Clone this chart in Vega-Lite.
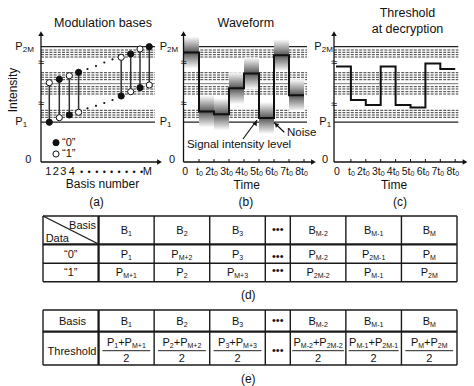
{
"$schema":"https://vega.github.io/schema/vega-lite/v6.json",
"padding":0,
"spacing":0,
"config":{"font":"Liberation Sans","view":{"stroke":null},"concat":{"spacing":0},"text":{"color":"#111"}},
"datasets":{
"gridA":[{"x":0.087,"x2":12.628,"y":11.53,"kind":"bold"},{"x":0.087,"x2":12.628,"y":3.98,"kind":"bold"},{"x":0.087,"x2":12.628,"y":7.83,"kind":"mid"},
{"x":0.087,"x2":12.628,"y":11.2,"kind":"dash"},{"x":0.087,"x2":12.628,"y":10.97,"kind":"dash"},{"x":0.087,"x2":12.628,"y":10.73,"kind":"dash"},{"x":0.087,"x2":12.628,"y":10.5,"kind":"dash"},
{"x":0.087,"x2":12.628,"y":8.93,"kind":"dash"},{"x":0.087,"x2":12.628,"y":8.7,"kind":"dash"},{"x":0.087,"x2":12.628,"y":8.47,"kind":"dash"},{"x":0.087,"x2":12.628,"y":8.23,"kind":"dash"},
{"x":0.087,"x2":12.628,"y":7.53,"kind":"dash"},{"x":0.087,"x2":12.628,"y":7.3,"kind":"dash"},{"x":0.087,"x2":12.628,"y":7.03,"kind":"dash"},{"x":0.087,"x2":12.628,"y":6.8,"kind":"dash"},
{"x":0.087,"x2":12.628,"y":5.17,"kind":"dash"},{"x":0.087,"x2":12.628,"y":4.93,"kind":"dash"},{"x":0.087,"x2":12.628,"y":4.7,"kind":"dash"},{"x":0.087,"x2":12.628,"y":4.47,"kind":"dash"}],
"gridB":[{"x":-0.033,"x2":8.2,"y":11.53,"kind":"bold"},{"x":-0.033,"x2":8.2,"y":3.98,"kind":"bold"},{"x":-0.033,"x2":8.2,"y":7.83,"kind":"mid"},
{"x":-0.033,"x2":8.2,"y":11.2,"kind":"dash"},{"x":-0.033,"x2":8.2,"y":10.97,"kind":"dash"},{"x":-0.033,"x2":8.2,"y":10.73,"kind":"dash"},{"x":-0.033,"x2":8.2,"y":10.5,"kind":"dash"},
{"x":-0.033,"x2":8.2,"y":8.93,"kind":"dash"},{"x":-0.033,"x2":8.2,"y":8.7,"kind":"dash"},{"x":-0.033,"x2":8.2,"y":8.47,"kind":"dash"},{"x":-0.033,"x2":8.2,"y":8.23,"kind":"dash"},
{"x":-0.033,"x2":8.2,"y":7.53,"kind":"dash"},{"x":-0.033,"x2":8.2,"y":7.3,"kind":"dash"},{"x":-0.033,"x2":8.2,"y":7.03,"kind":"dash"},{"x":-0.033,"x2":8.2,"y":6.8,"kind":"dash"},
{"x":-0.033,"x2":8.2,"y":5.17,"kind":"dash"},{"x":-0.033,"x2":8.2,"y":4.93,"kind":"dash"},{"x":-0.033,"x2":8.2,"y":4.7,"kind":"dash"},{"x":-0.033,"x2":8.2,"y":4.47,"kind":"dash"}],
"gridC":[{"x":-0.134,"x2":8.208,"y":11.53,"kind":"bold"},{"x":-0.134,"x2":8.208,"y":3.98,"kind":"bold"},{"x":-0.134,"x2":8.208,"y":7.83,"kind":"mid"},
{"x":-0.134,"x2":8.208,"y":11.2,"kind":"dash"},{"x":-0.134,"x2":8.208,"y":10.97,"kind":"dash"},{"x":-0.134,"x2":8.208,"y":10.73,"kind":"dash"},{"x":-0.134,"x2":8.208,"y":10.5,"kind":"dash"},
{"x":-0.134,"x2":8.208,"y":8.93,"kind":"dash"},{"x":-0.134,"x2":8.208,"y":8.7,"kind":"dash"},{"x":-0.134,"x2":8.208,"y":8.47,"kind":"dash"},{"x":-0.134,"x2":8.208,"y":8.23,"kind":"dash"},
{"x":-0.134,"x2":8.208,"y":7.53,"kind":"dash"},{"x":-0.134,"x2":8.208,"y":7.3,"kind":"dash"},{"x":-0.134,"x2":8.208,"y":7.03,"kind":"dash"},{"x":-0.134,"x2":8.208,"y":6.8,"kind":"dash"},
{"x":-0.134,"x2":8.208,"y":5.17,"kind":"dash"},{"x":-0.134,"x2":8.208,"y":4.93,"kind":"dash"},{"x":-0.134,"x2":8.208,"y":4.7,"kind":"dash"},{"x":-0.134,"x2":8.208,"y":4.47,"kind":"dash"}],
"anchor":[{"x":0.087,"x2":12.6,"y":-4.75}],
"aAxes":[{"x":0.087,"y":0,"x2":0.087,"y2":12.7},{"x":0.087,"y":0,"x2":12.96,"y2":0}],
"aArrow":[{"x":0.087,"y":12.83,"d":"up"},{"x":13.12,"y":0,"d":"right"}],
"aMarks":[{"x":1,"y":3.98,"bit":"0"},{"x":1,"y":7.93,"bit":"1"},
{"x":2.1,"y":8.27,"bit":"0"},{"x":2.1,"y":4.43,"bit":"1"},
{"x":3.2,"y":4.7,"bit":"0"},{"x":3.2,"y":8.63,"bit":"1"},
{"x":4.223,"y":8.97,"bit":"0"},{"x":4.223,"y":4.97,"bit":"1"},
{"x":8.91,"y":6.6,"bit":"0"},{"x":8.91,"y":10.47,"bit":"1"},
{"x":9.955,"y":10.8,"bit":"0"},{"x":9.955,"y":7.03,"bit":"1"},
{"x":10.978,"y":7.43,"bit":"0"},{"x":10.978,"y":11.3,"bit":"1"},
{"x":12,"y":11.53,"bit":"0"},{"x":12,"y":7.7,"bit":"1"}],
"aDots":[{"x":5.202,"y":9.3},{"x":6.137,"y":9.6},{"x":7.051,"y":9.95},{"x":7.953,"y":10.27},
{"x":5.202,"y":5.37},{"x":6.137,"y":5.62},{"x":7.051,"y":5.9},{"x":7.953,"y":6.2}],
"aLeg":[{"x":1.737,"y":1.93,"bit":"0"},{"x":1.737,"y":0.8,"bit":"1"}],
"aText":[
{"x":6.908,"y":13.9,"t":"Modulation bases","r":"title"},
{"x":-2.993,"y":7.2,"t":"Intensity","r":"rot"},
{"x":6.853,"y":-2.15,"t":"Basis number","r":"lab"},
{"x":6.193,"y":-3.95,"t":"(a)","r":"lab"},
{"x":-1.926,"y":11.53,"t":"P","r":"P"},{"x":-1.926,"y":11.53,"t":"2M","r":"sub"},
{"x":-1.926,"y":3.98,"t":"P","r":"P"},{"x":-1.926,"y":3.98,"t":"1","r":"sub"},
{"x":-1.31,"y":0.2,"t":"0","r":"tick"},
{"x":0.89,"y":-0.97,"t":"1","r":"tick"},{"x":1.704,"y":-0.97,"t":"2","r":"tick"},
{"x":2.54,"y":-0.97,"t":"3","r":"tick"},{"x":3.464,"y":-0.97,"t":"4","r":"tick"},
{"x":4.564,"y":-0.97,"t":"•","r":"bul"},{"x":5.389,"y":-0.97,"t":"•","r":"bul"},
{"x":6.215,"y":-0.97,"t":"•","r":"bul"},{"x":7.04,"y":-0.97,"t":"•","r":"bul"},
{"x":7.865,"y":-0.97,"t":"•","r":"bul"},{"x":8.69,"y":-0.97,"t":"•","r":"bul"},
{"x":9.515,"y":-0.97,"t":"•","r":"bul"},{"x":10.34,"y":-0.97,"t":"•","r":"bul"},
{"x":11.165,"y":-0.97,"t":"•","r":"bul"},
{"x":11.781,"y":-0.97,"t":"M","r":"tick"},
{"x":2.397,"y":1.93,"t":"“0”","r":"leg"},{"x":2.397,"y":0.8,"t":"“1”","r":"leg"},
{"x":0.087,"y":9.9,"t":"≈","r":"brk"},{"x":0.087,"y":5.8,"t":"≈","r":"brk"}],
"ticks":[{"x":1,"y":0,"y2":0.3},{"x":2,"y":0,"y2":0.3},{"x":3,"y":0,"y2":0.3},{"x":4,"y":0,"y2":0.3},{"x":5,"y":0,"y2":0.3},{"x":6,"y":0,"y2":0.3},{"x":7,"y":0,"y2":0.3},{"x":8,"y":0,"y2":0.3}],
"tickLab":[{"x":0.07,"y":-0.97,"t":"0","r":"tick"},
{"x":1,"y":-0.97,"t":"t","r":"tb"},{"x":1,"y":-0.97,"t":"0","r":"ts"},
{"x":2,"y":-0.97,"t":"2t","r":"tb"},{"x":2,"y":-0.97,"t":"0","r":"ts"},
{"x":3,"y":-0.97,"t":"3t","r":"tb"},{"x":3,"y":-0.97,"t":"0","r":"ts"},
{"x":4,"y":-0.97,"t":"4t","r":"tb"},{"x":4,"y":-0.97,"t":"0","r":"ts"},
{"x":5,"y":-0.97,"t":"5t","r":"tb"},{"x":5,"y":-0.97,"t":"0","r":"ts"},
{"x":6,"y":-0.97,"t":"6t","r":"tb"},{"x":6,"y":-0.97,"t":"0","r":"ts"},
{"x":7,"y":-0.97,"t":"7t","r":"tb"},{"x":7,"y":-0.97,"t":"0","r":"ts"},
{"x":8,"y":-0.97,"t":"8t","r":"tb"},{"x":8,"y":-0.97,"t":"0","r":"ts"}],
"bAxes":[{"x":-0.033,"y":0,"x2":-0.033,"y2":12.7},{"x":-0.033,"y":0,"x2":8.53,"y2":0}],
"bArrow":[{"x":-0.033,"y":12.83,"d":"up"},{"x":8.63,"y":0,"d":"right"}],
"wave":[{"x":0,"y":10.95},{"x":1,"y":5.05},{"x":2,"y":4.78},{"x":3,"y":7.38},{"x":4,"y":8.85},{"x":5,"y":4.4},{"x":6,"y":10.68},{"x":7,"y":6.68},{"x":8,"y":6.68}],
"noise":[{"x":0,"x2":1,"y":9.35,"y2":12.55},{"x":1,"x2":2,"y":3.45,"y2":6.65},{"x":2,"x2":3,"y":3.18,"y2":6.38},{"x":3,"x2":4,"y":5.78,"y2":8.98},{"x":4,"x2":5,"y":7.25,"y2":10.45},{"x":5,"x2":6,"y":2.8,"y2":6.0},{"x":6,"x2":7,"y":9.08,"y2":12.28},{"x":7,"x2":8,"y":5.08,"y2":8.28}],
"bAnnot":[{"x":3.933,"y":2.3,"x2":4.867,"y2":4.2,"id":"sig"},{"x":6.687,"y":2.97,"x2":6.0,"y2":3.95,"id":"noise"}],
"bHeads":[{"x":4.78,"y":3.89,"id":"sig"},{"x":6.14,"y":3.76,"id":"noise"}],
"bText":[
{"x":4.12,"y":13.9,"t":"Waveform","r":"title"},
{"x":4.18,"y":-2.3,"t":"Time","r":"lab"},
{"x":4.13,"y":-3.95,"t":"(b)","r":"lab"},
{"x":-1.133,"y":11.53,"t":"P","r":"P"},{"x":-1.133,"y":11.53,"t":"2M","r":"sub"},
{"x":-1.133,"y":3.98,"t":"P","r":"P"},{"x":-1.133,"y":3.98,"t":"1","r":"sub"},
{"x":-0.8,"y":0.2,"t":"0","r":"tick"},
{"x":3.667,"y":1.7,"t":"Signal intensity level","r":"ann"},
{"x":7.847,"y":2.87,"t":"Noise","r":"ann"},
{"x":-0.033,"y":9.9,"t":"≈","r":"brk"},{"x":-0.033,"y":5.8,"t":"≈","r":"brk"}],
"cAxes":[{"x":-0.134,"y":0,"x2":-0.134,"y2":12.7},{"x":-0.134,"y":0,"x2":8.56,"y2":0}],
"cArrow":[{"x":-0.134,"y":12.83,"d":"up"},{"x":8.66,"y":0,"d":"right"}],
"thr":[{"x":0,"y":9.55},{"x":1,"y":6.2},{"x":2,"y":5.7},{"x":3,"y":9.55},{"x":4,"y":5.7},{"x":5,"y":5.45},{"x":6,"y":9.85},{"x":7,"y":9.3},{"x":8,"y":9.3}],
"cText":[
{"x":4.799,"y":14.87,"t":"Threshold","r":"title"},
{"x":4.799,"y":13.27,"t":"at decryption","r":"title"},
{"x":3.893,"y":-2.3,"t":"Time","r":"lab"},
{"x":4.295,"y":-3.95,"t":"(c)","r":"lab"},
{"x":-0.96,"y":11.53,"t":"P","r":"P"},{"x":-0.96,"y":11.53,"t":"2M","r":"sub"},
{"x":-0.624,"y":3.98,"t":"P","r":"P"},{"x":-0.624,"y":3.98,"t":"1","r":"sub"},
{"x":-0.738,"y":0.2,"t":"0","r":"tick"},
{"x":-0.134,"y":9.87,"t":"≈","r":"brk"},{"x":-0.134,"y":5.7,"t":"≈","r":"brk"}],
"tLines":[
{"x":0,"y":1.1,"x2":7.45,"y2":1.1,"w":"thin"},
{"x":0,"y":3.93,"x2":7.45,"y2":3.93,"w":"thick"},
{"x":0,"y":5.83,"x2":7.45,"y2":5.83,"w":"thin"},
{"x":0,"y":7.67,"x2":7.45,"y2":7.67,"w":"thin"},
{"x":0,"y":1.1,"x2":0,"y2":7.67,"w":"thin"},
{"x":1,"y":1.1,"x2":1,"y2":7.67,"w":"thick"},
{"x":2,"y":1.1,"x2":2,"y2":7.67,"w":"thin"},
{"x":3,"y":1.1,"x2":3,"y2":7.67,"w":"thin"},
{"x":4,"y":1.1,"x2":4,"y2":7.67,"w":"thin"},
{"x":4.45,"y":1.1,"x2":4.45,"y2":7.67,"w":"thin"},
{"x":5.45,"y":1.1,"x2":5.45,"y2":7.67,"w":"thin"},
{"x":6.45,"y":1.1,"x2":6.45,"y2":7.67,"w":"thin"},
{"x":7.45,"y":1.1,"x2":7.45,"y2":7.67,"w":"thin"},
{"x":0,"y":1.1,"x2":0.98,"y2":3.85,"w":"thin"},
{"x":0,"y":10.5,"x2":7.45,"y2":10.5,"w":"thin"},
{"x":0,"y":12.67,"x2":7.45,"y2":12.67,"w":"thick"},
{"x":0,"y":16.0,"x2":7.45,"y2":16.0,"w":"thin"},
{"x":0,"y":10.5,"x2":0,"y2":16.0,"w":"thin"},
{"x":1,"y":10.5,"x2":1,"y2":16.0,"w":"thick"},
{"x":2,"y":10.5,"x2":2,"y2":16.0,"w":"thin"},
{"x":3,"y":10.5,"x2":3,"y2":16.0,"w":"thin"},
{"x":4,"y":10.5,"x2":4,"y2":16.0,"w":"thin"},
{"x":4.45,"y":10.5,"x2":4.45,"y2":16.0,"w":"thin"},
{"x":5.45,"y":10.5,"x2":5.45,"y2":16.0,"w":"thin"},
{"x":6.45,"y":10.5,"x2":6.45,"y2":16.0,"w":"thin"},
{"x":7.45,"y":10.5,"x2":7.45,"y2":16.0,"w":"thin"}],
"tBars":[{"x":1.07,"x2":1.93,"y":14.57},{"x":2.07,"x2":2.93,"y":14.57},{"x":3.07,"x2":3.93,"y":14.57},{"x":4.485,"x2":5.415,"y":14.57},{"x":5.5,"x2":6.4,"y":14.57},{"x":6.52,"x2":7.38,"y":14.57}],
"tText":[
{"x":1.399,"y":2.57,"t":"B","r":"b"},{"x":1.531,"y":2.57,"t":"1","r":"s"},
{"x":2.399,"y":2.57,"t":"B","r":"b"},{"x":2.531,"y":2.57,"t":"2","r":"s"},
{"x":3.399,"y":2.57,"t":"B","r":"b"},{"x":3.531,"y":2.57,"t":"3","r":"s"},
{"x":4.776,"y":2.57,"t":"B","r":"b"},{"x":4.908,"y":2.57,"t":"M-2","r":"s"},
{"x":5.776,"y":2.57,"t":"B","r":"b"},{"x":5.908,"y":2.57,"t":"M-1","r":"s"},
{"x":6.832,"y":2.57,"t":"B","r":"b"},{"x":6.964,"y":2.57,"t":"M","r":"s"},
{"x":0.711,"y":2.1,"t":"Basis","r":"c"},
{"x":0.257,"y":3.4,"t":"Data","r":"c"},
{"x":4.225,"y":2.45,"t":"•••","r":"c"},
{"x":0.5,"y":5.0,"t":"“0”","r":"c"},
{"x":1.399,"y":5.0,"t":"P","r":"b"},{"x":1.531,"y":5.0,"t":"1","r":"s"},
{"x":2.31,"y":5.0,"t":"P","r":"b"},{"x":2.442,"y":5.0,"t":"M+2","r":"s"},
{"x":3.399,"y":5.0,"t":"P","r":"b"},{"x":3.531,"y":5.0,"t":"3","r":"s"},
{"x":4.225,"y":5.2,"t":"•••","r":"c"},
{"x":4.776,"y":5.0,"t":"P","r":"b"},{"x":4.908,"y":5.0,"t":"M-2","r":"s"},
{"x":5.741,"y":5.0,"t":"P","r":"b"},{"x":5.873,"y":5.0,"t":"2M-1","r":"s"},
{"x":6.832,"y":5.0,"t":"P","r":"b"},{"x":6.964,"y":5.0,"t":"M","r":"s"},
{"x":0.5,"y":6.77,"t":"“1”","r":"c"},
{"x":1.31,"y":6.77,"t":"P","r":"b"},{"x":1.442,"y":6.77,"t":"M+1","r":"s"},
{"x":2.399,"y":6.77,"t":"P","r":"b"},{"x":2.531,"y":6.77,"t":"2","r":"s"},
{"x":3.31,"y":6.77,"t":"P","r":"b"},{"x":3.442,"y":6.77,"t":"M+3","r":"s"},
{"x":4.225,"y":6.55,"t":"•••","r":"c"},
{"x":4.741,"y":6.77,"t":"P","r":"b"},{"x":4.873,"y":6.77,"t":"2M-2","r":"s"},
{"x":5.776,"y":6.77,"t":"P","r":"b"},{"x":5.908,"y":6.77,"t":"M-1","r":"s"},
{"x":6.797,"y":6.77,"t":"P","r":"b"},{"x":6.929,"y":6.77,"t":"2M","r":"s"},
{"x":3.694,"y":9.0,"t":"(d)","r":"lab"},
{"x":0.53,"y":11.67,"t":"Basis","r":"c"},
{"x":1.399,"y":11.67,"t":"B","r":"b"},{"x":1.531,"y":11.67,"t":"1","r":"s"},
{"x":2.399,"y":11.67,"t":"B","r":"b"},{"x":2.531,"y":11.67,"t":"2","r":"s"},
{"x":3.399,"y":11.67,"t":"B","r":"b"},{"x":3.531,"y":11.67,"t":"3","r":"s"},
{"x":4.225,"y":11.55,"t":"•••","r":"c"},
{"x":4.776,"y":11.67,"t":"B","r":"b"},{"x":4.908,"y":11.67,"t":"M-2","r":"s"},
{"x":5.776,"y":11.67,"t":"B","r":"b"},{"x":5.908,"y":11.67,"t":"M-1","r":"s"},
{"x":6.832,"y":11.67,"t":"B","r":"b"},{"x":6.964,"y":11.67,"t":"M","r":"s"},
{"x":0.522,"y":14.67,"t":"Threshold","r":"c"},
{"x":1.151,"y":13.83,"t":"P","r":"b"},{"x":1.283,"y":13.83,"t":"1","r":"s"},{"x":1.353,"y":13.83,"t":"+P","r":"b"},{"x":1.601,"y":13.83,"t":"M+1","r":"s"},
{"x":2.151,"y":13.83,"t":"P","r":"b"},{"x":2.283,"y":13.83,"t":"2","r":"s"},{"x":2.353,"y":13.83,"t":"+P","r":"b"},{"x":2.601,"y":13.83,"t":"M+2","r":"s"},
{"x":3.151,"y":13.83,"t":"P","r":"b"},{"x":3.283,"y":13.83,"t":"3","r":"s"},{"x":3.353,"y":13.83,"t":"+P","r":"b"},{"x":3.601,"y":13.83,"t":"M+3","r":"s"},
{"x":4.508,"y":13.83,"t":"P","r":"b"},{"x":4.64,"y":13.83,"t":"M-2","r":"s"},{"x":4.857,"y":13.83,"t":"+P","r":"b"},{"x":5.105,"y":13.83,"t":"2M-2","r":"s"},
{"x":5.508,"y":13.83,"t":"P","r":"b"},{"x":5.64,"y":13.83,"t":"M-1","r":"s"},{"x":5.857,"y":13.83,"t":"+P","r":"b"},{"x":6.105,"y":13.83,"t":"2M-1","r":"s"},
{"x":6.62,"y":13.83,"t":"P","r":"b"},{"x":6.752,"y":13.83,"t":"M","r":"s"},{"x":6.857,"y":13.83,"t":"+P","r":"b"},{"x":7.105,"y":13.83,"t":"2M","r":"s"},
{"x":1.5,"y":15.43,"t":"2","r":"c"},{"x":2.5,"y":15.43,"t":"2","r":"c"},{"x":3.5,"y":15.43,"t":"2","r":"c"},
{"x":4.95,"y":15.43,"t":"2","r":"c"},{"x":5.95,"y":15.43,"t":"2","r":"c"},{"x":6.95,"y":15.43,"t":"2","r":"c"},
{"x":4.225,"y":14.6,"t":"•••","r":"c"},
{"x":3.694,"y":17.35,"t":"(e)","r":"lab"}]
},
"vconcat":[
{"hconcat":[
{"width":160,"height":210,
"encoding":{"x":{"field":"x","type":"quantitative","scale":{"domain":[-4.4235,13.1782],"nice":false,"zero":false},"axis":null},
"y":{"field":"y","type":"quantitative","scale":{"domain":[-4.8,16.2],"nice":false,"zero":false},"axis":null}},
"layer":[
{"data":{"name":"anchor"},"mark":{"type":"rule","color":"#ffffff","strokeWidth":1},"encoding":{"x2":{"field":"x2"}}},
{"data":{"name":"gridA"},"transform":[{"filter":"datum.kind==='dash'"}],"mark":{"type":"rule","color":"#3a3a3a","strokeWidth":1,"strokeDash":[3,1.2]},"encoding":{"x2":{"field":"x2"}}},
{"data":{"name":"gridA"},"transform":[{"filter":"datum.kind==='mid'"}],"mark":{"type":"rule","color":"#777","strokeWidth":1},"encoding":{"x2":{"field":"x2"}}},
{"data":{"name":"gridA"},"transform":[{"filter":"datum.kind==='bold'"}],"mark":{"type":"rule","color":"#222","strokeWidth":1.3},"encoding":{"x2":{"field":"x2"}}},
{"data":{"name":"aAxes"},"mark":{"type":"rule","color":"#111","strokeWidth":1.3},"encoding":{"x2":{"field":"x2"},"y2":{"field":"y2"}}},
{"data":{"name":"aArrow"},"transform":[{"filter":"datum.d==='up'"}],"mark":{"type":"point","shape":"triangle-up","filled":true,"color":"#111","size":30,"opacity":1}},
{"data":{"name":"aArrow"},"transform":[{"filter":"datum.d==='right'"}],"mark":{"type":"point","shape":"triangle-right","filled":true,"color":"#111","size":30,"opacity":1}},
{"data":{"name":"aMarks"},"transform":[{"aggregate":[{"op":"min","field":"y","as":"y"},{"op":"max","field":"y","as":"y2"}],"groupby":["x"]}],"mark":{"type":"rule","color":"#333","strokeWidth":1.5},"encoding":{"y2":{"field":"y2"}}},
{"data":{"name":"aDots"},"mark":{"type":"point","shape":"circle","filled":true,"color":"#111","size":5,"opacity":1}},
{"data":{"name":"aMarks"},"mark":{"type":"point","shape":"circle","filled":true,"size":38,"stroke":"#111","strokeWidth":1,"opacity":1},"encoding":{"fill":{"field":"bit","type":"nominal","scale":{"domain":["0","1"],"range":["#111111","#ffffff"]},"legend":null}}},
{"data":{"name":"aLeg"},"mark":{"type":"point","shape":"circle","filled":true,"size":38,"stroke":"#111","strokeWidth":1,"opacity":1},"encoding":{"fill":{"field":"bit","type":"nominal","scale":{"domain":["0","1"],"range":["#111111","#ffffff"]},"legend":null}}},
{"data":{"name":"aText"},"transform":[{"filter":"datum.r==='title'"}],"mark":{"type":"text","fontSize":12.5,"align":"center","baseline":"middle"},"encoding":{"text":{"field":"t"}}},
{"data":{"name":"aText"},"transform":[{"filter":"datum.r==='rot'"}],"mark":{"type":"text","fontSize":12,"angle":270,"align":"center","baseline":"middle"},"encoding":{"text":{"field":"t"}}},
{"data":{"name":"aText"},"transform":[{"filter":"datum.r==='lab'"}],"mark":{"type":"text","fontSize":12,"align":"center","baseline":"middle"},"encoding":{"text":{"field":"t"}}},
{"data":{"name":"aText"},"transform":[{"filter":"datum.r==='P'"}],"mark":{"type":"text","fontSize":11,"align":"right","baseline":"middle"},"encoding":{"text":{"field":"t"}}},
{"data":{"name":"aText"},"transform":[{"filter":"datum.r==='sub'"}],"mark":{"type":"text","fontSize":8,"align":"left","baseline":"middle","dy":3},"encoding":{"text":{"field":"t"}}},
{"data":{"name":"aText"},"transform":[{"filter":"datum.r==='tick'"}],"mark":{"type":"text","fontSize":11,"align":"center","baseline":"middle"},"encoding":{"text":{"field":"t"}}},
{"data":{"name":"aText"},"transform":[{"filter":"datum.r==='bul'"}],"mark":{"type":"text","fontSize":9,"align":"center","baseline":"middle"},"encoding":{"text":{"field":"t"}}},
{"data":{"name":"aText"},"transform":[{"filter":"datum.r==='leg'"}],"mark":{"type":"text","fontSize":11,"align":"left","baseline":"middle"},"encoding":{"text":{"field":"t"}}},
{"data":{"name":"aText"},"transform":[{"filter":"datum.r==='brk'"}],"mark":{"type":"text","fontSize":11,"align":"center","baseline":"middle"},"encoding":{"text":{"field":"t"}}}
]},
{"width":158,"height":210,
"encoding":{"x":{"field":"x","type":"quantitative","scale":{"domain":[-1.6,8.9333],"nice":false,"zero":false},"axis":null},
"y":{"field":"y","type":"quantitative","scale":{"domain":[-4.8,16.2],"nice":false,"zero":false},"axis":null}},
"layer":[
{"data":{"name":"gridB"},"transform":[{"filter":"datum.kind==='dash'"}],"mark":{"type":"rule","color":"#3a3a3a","strokeWidth":1,"strokeDash":[3,1.2]},"encoding":{"x2":{"field":"x2"}}},
{"data":{"name":"gridB"},"transform":[{"filter":"datum.kind==='mid'"}],"mark":{"type":"rule","color":"#777","strokeWidth":1},"encoding":{"x2":{"field":"x2"}}},
{"data":{"name":"gridB"},"transform":[{"filter":"datum.kind==='bold'"}],"mark":{"type":"rule","color":"#222","strokeWidth":1.3},"encoding":{"x2":{"field":"x2"}}},
{"data":{"name":"noise"},"mark":{"type":"rect","fill":{"gradient":"linear","x1":0,"y1":0,"x2":0,"y2":1,"stops":[{"offset":0,"color":"#ffffff"},{"offset":0.5,"color":"#555555"},{"offset":1,"color":"#ffffff"}]}},"encoding":{"x2":{"field":"x2"},"y2":{"field":"y2"}}},
{"data":{"name":"bAxes"},"mark":{"type":"rule","color":"#111","strokeWidth":1.3},"encoding":{"x2":{"field":"x2"},"y2":{"field":"y2"}}},
{"data":{"name":"ticks"},"mark":{"type":"rule","color":"#111","strokeWidth":1},"encoding":{"y2":{"field":"y2"}}},
{"data":{"name":"bArrow"},"transform":[{"filter":"datum.d==='up'"}],"mark":{"type":"point","shape":"triangle-up","filled":true,"color":"#111","size":30,"opacity":1}},
{"data":{"name":"bArrow"},"transform":[{"filter":"datum.d==='right'"}],"mark":{"type":"point","shape":"triangle-right","filled":true,"color":"#111","size":30,"opacity":1}},
{"data":{"name":"wave"},"mark":{"type":"line","interpolate":"step-after","color":"#111","strokeWidth":2}},
{"data":{"name":"bAnnot"},"mark":{"type":"rule","color":"#111","strokeWidth":1.2},"encoding":{"x2":{"field":"x2"},"y2":{"field":"y2"}}},
{"data":{"name":"bHeads"},"transform":[{"filter":"datum.id==='sig'"}],"mark":{"type":"point","shape":"triangle-up","filled":true,"color":"#111","size":24,"angle":32,"opacity":1}},
{"data":{"name":"bHeads"},"transform":[{"filter":"datum.id==='noise'"}],"mark":{"type":"point","shape":"triangle-up","filled":true,"color":"#111","size":24,"angle":-46,"opacity":1}},
{"data":{"name":"bText"},"transform":[{"filter":"datum.r==='title'"}],"mark":{"type":"text","fontSize":12.5,"align":"center","baseline":"middle"},"encoding":{"text":{"field":"t"}}},
{"data":{"name":"bText"},"transform":[{"filter":"datum.r==='lab'"}],"mark":{"type":"text","fontSize":12,"align":"center","baseline":"middle"},"encoding":{"text":{"field":"t"}}},
{"data":{"name":"bText"},"transform":[{"filter":"datum.r==='ann'"}],"mark":{"type":"text","fontSize":11.5,"align":"center","baseline":"middle"},"encoding":{"text":{"field":"t"}}},
{"data":{"name":"bText"},"transform":[{"filter":"datum.r==='P'"}],"mark":{"type":"text","fontSize":11,"align":"right","baseline":"middle"},"encoding":{"text":{"field":"t"}}},
{"data":{"name":"bText"},"transform":[{"filter":"datum.r==='sub'"}],"mark":{"type":"text","fontSize":8,"align":"left","baseline":"middle","dy":3},"encoding":{"text":{"field":"t"}}},
{"data":{"name":"bText"},"transform":[{"filter":"datum.r==='tick' || datum.r==='brk'"}],"mark":{"type":"text","fontSize":11,"align":"center","baseline":"middle"},"encoding":{"text":{"field":"t"}}},
{"data":{"name":"tickLab"},"transform":[{"filter":"datum.r==='tick'"}],"mark":{"type":"text","fontSize":10.5,"align":"center","baseline":"middle"},"encoding":{"text":{"field":"t"}}},
{"data":{"name":"tickLab"},"transform":[{"filter":"datum.r==='tb'"}],"mark":{"type":"text","fontSize":10.5,"align":"right","baseline":"middle"},"encoding":{"text":{"field":"t"}}},
{"data":{"name":"tickLab"},"transform":[{"filter":"datum.r==='ts'"}],"mark":{"type":"text","fontSize":7,"align":"left","baseline":"middle","dy":2.5},"encoding":{"text":{"field":"t"}}}
]},
{"width":156,"height":210,
"encoding":{"x":{"field":"x","type":"quantitative","scale":{"domain":[-1.2081,9.2617],"nice":false,"zero":false},"axis":null},
"y":{"field":"y","type":"quantitative","scale":{"domain":[-4.8,16.2],"nice":false,"zero":false},"axis":null}},
"layer":[
{"data":{"name":"gridC"},"transform":[{"filter":"datum.kind==='dash'"}],"mark":{"type":"rule","color":"#3a3a3a","strokeWidth":1,"strokeDash":[3,1.2]},"encoding":{"x2":{"field":"x2"}}},
{"data":{"name":"gridC"},"transform":[{"filter":"datum.kind==='mid'"}],"mark":{"type":"rule","color":"#777","strokeWidth":1},"encoding":{"x2":{"field":"x2"}}},
{"data":{"name":"gridC"},"transform":[{"filter":"datum.kind==='bold'"}],"mark":{"type":"rule","color":"#222","strokeWidth":1.3},"encoding":{"x2":{"field":"x2"}}},
{"data":{"name":"cAxes"},"mark":{"type":"rule","color":"#111","strokeWidth":1.3},"encoding":{"x2":{"field":"x2"},"y2":{"field":"y2"}}},
{"data":{"name":"ticks"},"mark":{"type":"rule","color":"#111","strokeWidth":1},"encoding":{"y2":{"field":"y2"}}},
{"data":{"name":"cArrow"},"transform":[{"filter":"datum.d==='up'"}],"mark":{"type":"point","shape":"triangle-up","filled":true,"color":"#111","size":30,"opacity":1}},
{"data":{"name":"cArrow"},"transform":[{"filter":"datum.d==='right'"}],"mark":{"type":"point","shape":"triangle-right","filled":true,"color":"#111","size":30,"opacity":1}},
{"data":{"name":"thr"},"mark":{"type":"line","interpolate":"step-after","color":"#111","strokeWidth":2}},
{"data":{"name":"cText"},"transform":[{"filter":"datum.r==='title'"}],"mark":{"type":"text","fontSize":12.5,"align":"center","baseline":"middle"},"encoding":{"text":{"field":"t"}}},
{"data":{"name":"cText"},"transform":[{"filter":"datum.r==='lab'"}],"mark":{"type":"text","fontSize":12,"align":"center","baseline":"middle"},"encoding":{"text":{"field":"t"}}},
{"data":{"name":"cText"},"transform":[{"filter":"datum.r==='P'"}],"mark":{"type":"text","fontSize":11,"align":"right","baseline":"middle"},"encoding":{"text":{"field":"t"}}},
{"data":{"name":"cText"},"transform":[{"filter":"datum.r==='sub'"}],"mark":{"type":"text","fontSize":8,"align":"left","baseline":"middle","dy":3},"encoding":{"text":{"field":"t"}}},
{"data":{"name":"cText"},"transform":[{"filter":"datum.r==='tick' || datum.r==='brk'"}],"mark":{"type":"text","fontSize":11,"align":"center","baseline":"middle"},"encoding":{"text":{"field":"t"}}},
{"data":{"name":"tickLab"},"transform":[{"filter":"datum.r==='tick'"}],"mark":{"type":"text","fontSize":10.5,"align":"center","baseline":"middle"},"encoding":{"text":{"field":"t"}}},
{"data":{"name":"tickLab"},"transform":[{"filter":"datum.r==='tb'"}],"mark":{"type":"text","fontSize":10.5,"align":"right","baseline":"middle"},"encoding":{"text":{"field":"t"}}},
{"data":{"name":"tickLab"},"transform":[{"filter":"datum.r==='ts'"}],"mark":{"type":"text","fontSize":7,"align":"left","baseline":"middle","dy":2.5},"encoding":{"text":{"field":"t"}}}
]}
],"spacing":0,"bounds":"flush"},
{"width":474,"height":176,
"encoding":{"x":{"field":"x","type":"quantitative","scale":{"domain":[-0.7738,7.7558],"nice":false,"zero":false},"axis":null},
"y":{"field":"y","type":"quantitative","scale":{"domain":[0.5,18.1],"nice":false,"zero":false,"reverse":true},"axis":null}},
"layer":[
{"data":{"name":"tLines"},"transform":[{"filter":"datum.w==='thin'"}],"mark":{"type":"rule","color":"#1a1a1a","strokeWidth":1.4},"encoding":{"x2":{"field":"x2"},"y2":{"field":"y2"}}},
{"data":{"name":"tLines"},"transform":[{"filter":"datum.w==='thick'"}],"mark":{"type":"rule","color":"#1a1a1a","strokeWidth":2.3},"encoding":{"x2":{"field":"x2"},"y2":{"field":"y2"}}},
{"data":{"name":"tBars"},"mark":{"type":"rule","color":"#222","strokeWidth":1},"encoding":{"x2":{"field":"x2"}}},
{"data":{"name":"tText"},"transform":[{"filter":"datum.r==='c'"}],"mark":{"type":"text","fontSize":11,"align":"center","baseline":"middle"},"encoding":{"text":{"field":"t"}}},
{"data":{"name":"tText"},"transform":[{"filter":"datum.r==='b'"}],"mark":{"type":"text","fontSize":11,"align":"left","baseline":"middle"},"encoding":{"text":{"field":"t"}}},
{"data":{"name":"tText"},"transform":[{"filter":"datum.r==='s'"}],"mark":{"type":"text","fontSize":7,"align":"left","baseline":"middle","dy":3},"encoding":{"text":{"field":"t"}}},
{"data":{"name":"tText"},"transform":[{"filter":"datum.r==='lab'"}],"mark":{"type":"text","fontSize":12,"align":"center","baseline":"middle"},"encoding":{"text":{"field":"t"}}}
]}
]
}
